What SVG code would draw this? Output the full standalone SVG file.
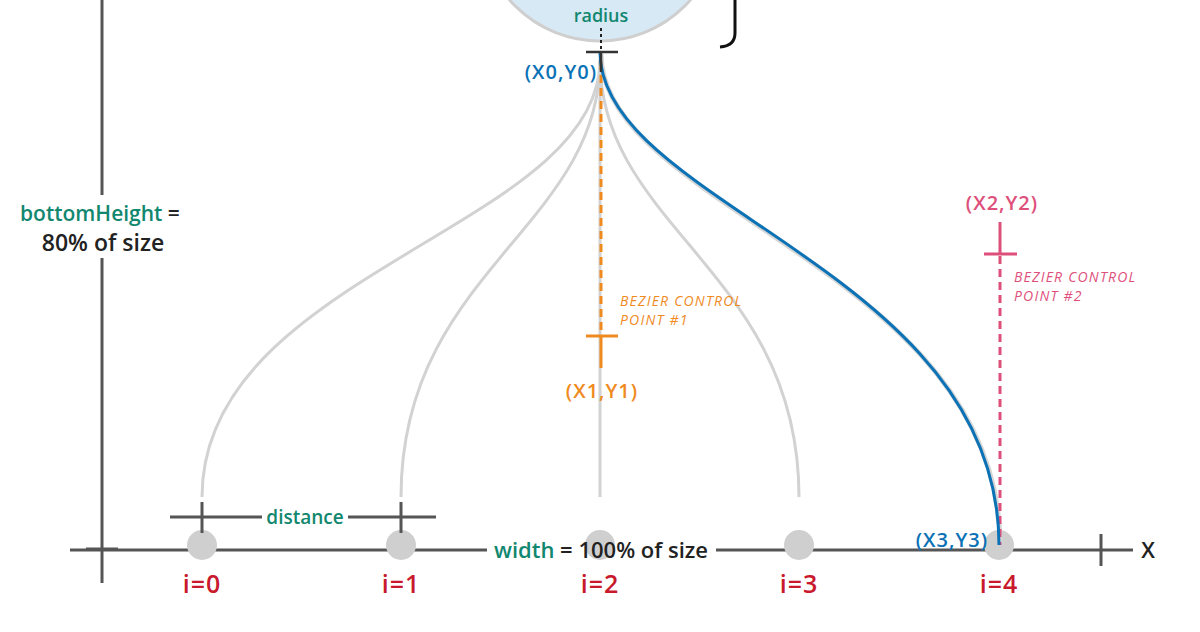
<svg xmlns="http://www.w3.org/2000/svg" width="1200" height="632" viewBox="0 0 1200 632">
<style>
text{font-family:"Open Sans","Liberation Sans",sans-serif;font-weight:600;}
.ax{stroke:#555;stroke-width:3;fill:none;}
.gc{stroke:#d2d2d2;stroke-width:3;fill:none;}
.dot{fill:#cfcfcf;}
.idx{fill:#c8192d;font-size:25px;text-anchor:middle;letter-spacing:1px;}
.grn{fill:#12876f;}
.blk{fill:#222;}
.blue{fill:#0b72b6;}
.org{fill:#ef8a1e;}
.pnk{fill:#de4f7b;}
.coord{font-size:20px;letter-spacing:1px;}
.note{font-size:14px;font-style:italic;font-weight:400;letter-spacing:1.2px;}
</style>
<rect width="1200" height="632" fill="#fff"/>

<g id="top-circle">
<circle cx="600" cy="-79" r="120" fill="#d8e9f6" stroke="#cfcfcf" stroke-width="3"/>
<text x="601" y="22" class="grn" font-size="18" text-anchor="middle">radius</text>
<line x1="601" y1="28" x2="601" y2="51" stroke="#222" stroke-width="2" stroke-dasharray="3,3"/>
<path d="M735,0 V33 Q735,46 720,47" stroke="#111" stroke-width="3" fill="none"/>
</g>

<g id="axes">
<line class="ax" x1="102" y1="0" x2="102" y2="195"/>
<line class="ax" x1="102" y1="258" x2="102" y2="583"/>
<line class="ax" x1="70" y1="550" x2="487" y2="550"/>
<line class="ax" x1="716" y1="550" x2="1133" y2="550"/>
<line class="ax" x1="86" y1="549" x2="118" y2="549"/>
<line class="ax" x1="1101" y1="534" x2="1101" y2="566"/>
<text x="1148" y="558" font-size="22" text-anchor="middle" fill="#222" font-family="Liberation Sans, sans-serif" font-weight="400">X</text>
</g>

<g id="dots">
<circle class="dot" cx="202" cy="545" r="15"/>
<circle class="dot" cx="401" cy="545" r="15"/>
<circle class="dot" cx="600" cy="545" r="15"/>
<circle class="dot" cx="799" cy="545" r="15"/>
<circle class="dot" cx="999" cy="545" r="15"/>
</g>

<g id="connectors">
<path class="gc" d="M600,60 C600,228 202,272 202,497"/>
<path class="gc" d="M600,60 C600,228 401,272 401,497"/>
<path class="gc" d="M600,60 V497"/>
<path class="gc" d="M600,60 C600,228 799,272 799,497"/>
<path d="M601,54 C601,207 1000,272 1000,545" stroke="#d6d6d6" stroke-width="5" fill="none"/>
<line x1="601" y1="62" x2="601" y2="336" stroke="#ef8a1e" stroke-width="3" stroke-dasharray="8,5"/>
<line x1="1000" y1="256" x2="1000" y2="545" stroke="#de4f7b" stroke-width="3" stroke-dasharray="8,5"/>
<path d="M600,52 C600,205 999,270 999,545" stroke="#0b72b6" stroke-width="3" fill="none"/>
</g>

<g id="p0">
<line x1="586" y1="52" x2="618" y2="52" stroke="#333" stroke-width="2.5"/>
<line x1="601" y1="52" x2="601" y2="72" stroke="#333" stroke-width="2.5"/>
<text x="597" y="79" class="blue coord" text-anchor="end">(X0,Y0)</text>
</g>

<g id="p1">
<line x1="586" y1="336" x2="618" y2="336" stroke="#ef8a1e" stroke-width="3"/>
<line x1="601" y1="336" x2="601" y2="368" stroke="#ef8a1e" stroke-width="3"/>
<text x="602" y="398" class="org coord" text-anchor="middle">(X1,Y1)</text>
<text x="620" y="306" class="org note">BEZIER CONTROL</text>
<text x="620" y="325" class="org note">POINT #1</text>
</g>

<g id="p2">
<line x1="984" y1="254" x2="1017" y2="254" stroke="#de4f7b" stroke-width="3"/>
<line x1="1000" y1="222" x2="1000" y2="254" stroke="#de4f7b" stroke-width="3"/>
<text x="1002" y="210" class="pnk coord" text-anchor="middle">(X2,Y2)</text>
<text x="1014" y="282" class="pnk note">BEZIER CONTROL</text>
<text x="1014" y="301" class="pnk note">POINT #2</text>
</g>

<g id="p3">
<text x="988" y="547" class="blue coord" text-anchor="end">(X3,Y3)</text>
</g>

<g id="distance">
<line class="ax" x1="170" y1="517" x2="262" y2="517"/>
<line class="ax" x1="348" y1="517" x2="436" y2="517"/>
<line class="ax" x1="202" y1="502" x2="202" y2="533"/>
<line class="ax" x1="401" y1="502" x2="401" y2="533"/>
<text x="305" y="524" class="grn" font-size="19" text-anchor="middle">distance</text>
</g>

<g id="labels">
<text x="20" y="221" font-size="21"><tspan class="grn">bottomHeight</tspan><tspan class="blk"> =</tspan></text>
<text x="103" y="251" class="blk" font-size="23" text-anchor="middle">80% of size</text>
<text x="601" y="558" font-size="22" text-anchor="middle"><tspan class="grn">width</tspan><tspan class="blk"> = 100% of size</tspan></text>
</g>

<g id="indices">
<text x="202" y="593" class="idx">i=0</text>
<text x="401" y="593" class="idx">i=1</text>
<text x="600" y="593" class="idx">i=2</text>
<text x="799" y="593" class="idx">i=3</text>
<text x="999" y="593" class="idx">i=4</text>
</g>
</svg>
